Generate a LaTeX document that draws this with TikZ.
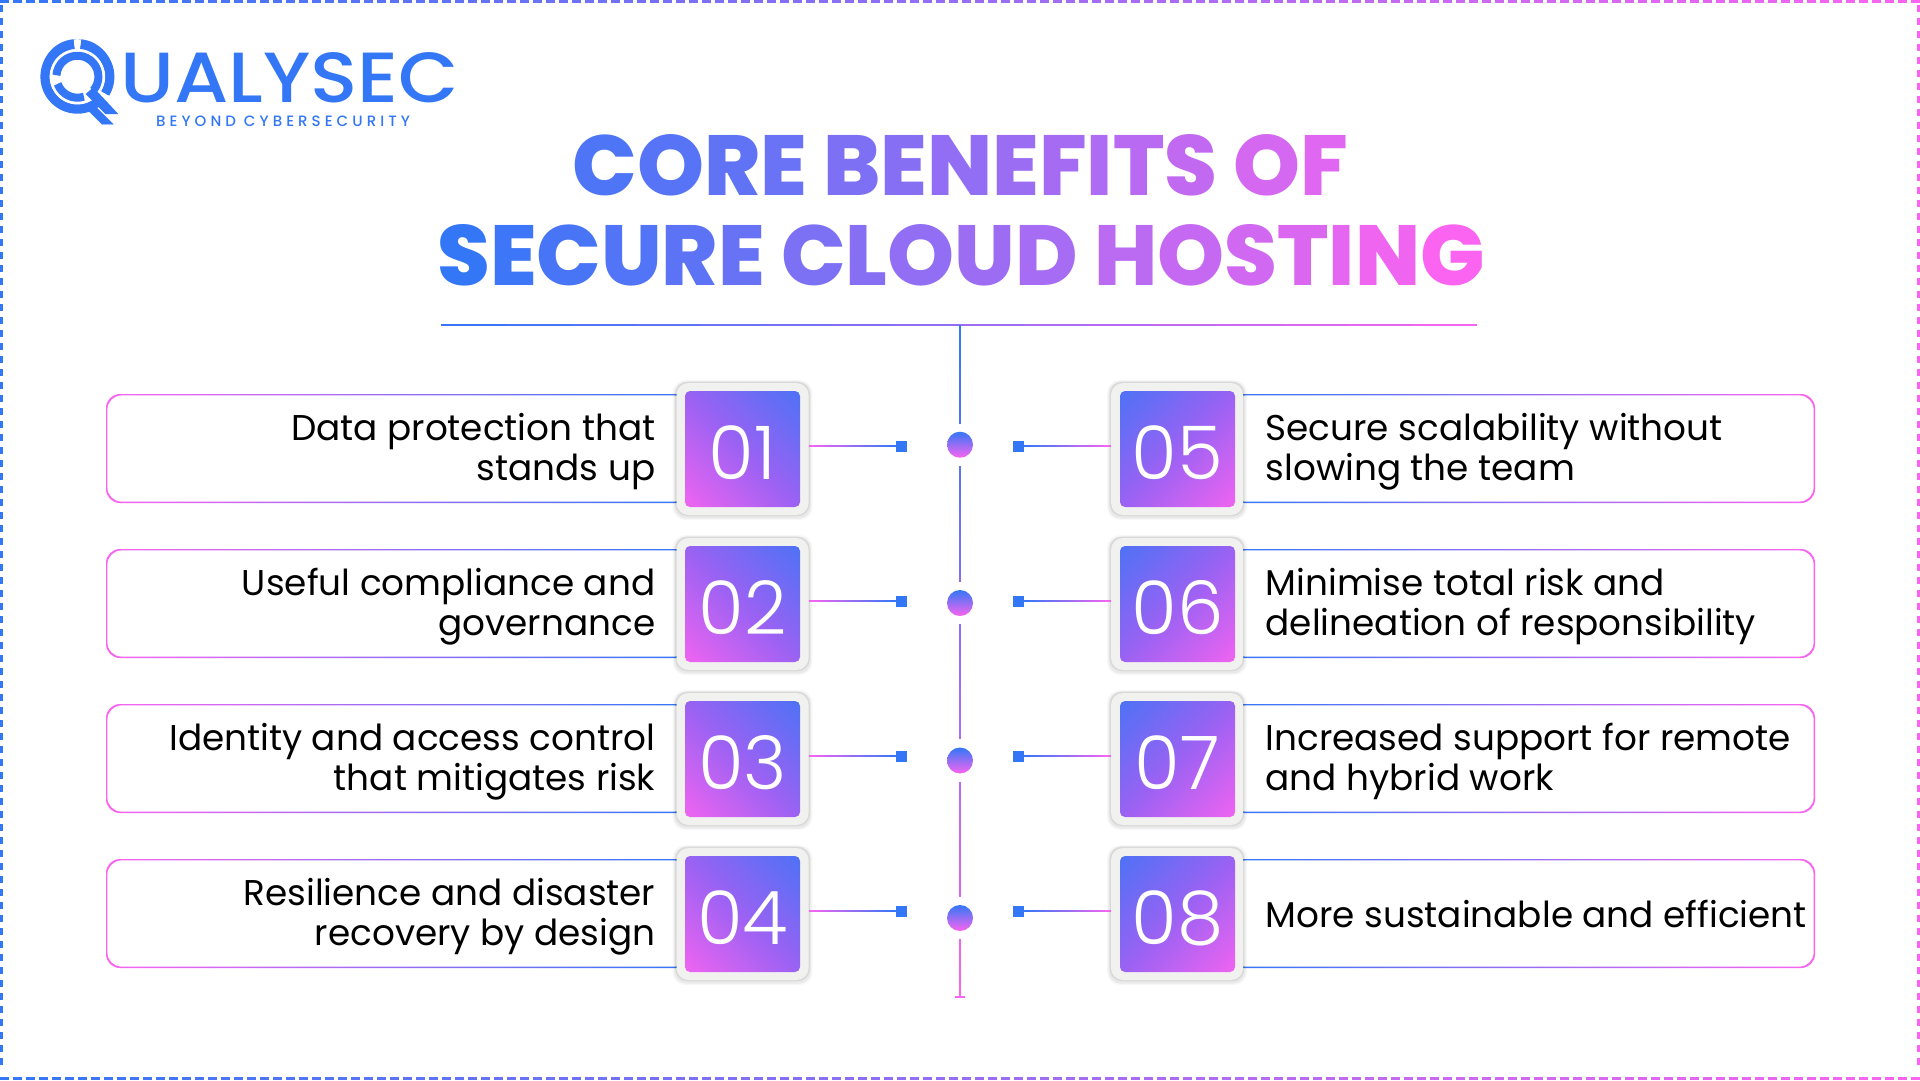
\documentclass[tikz,border=0pt]{standalone}
\usepackage{fontspec}
\setmainfont{Poppins}
\newfontfamily\titlefont{Poppins ExtraBold}
\newfontfamily\numberfont{Poppins Light}
\newfontfamily\logofont[FakeStretch=1.10]{Poppins Medium}
\newfontfamily\sloganfont[LetterSpace=27]{Poppins Medium}
\usetikzlibrary{calc,shadows}

\definecolor{qblue}{HTML}{3377F7}
\definecolor{qpink}{HTML}{FA64F0}
\definecolor{qframe}{HTML}{F1F1F0}
\definecolor{qmid}{HTML}{9A62F3}

\pgfdeclareverticalshading{tileshade}{100bp}{color(0bp)=(qpink); color(10bp)=(qpink); color(50bp)=(qmid); color(98bp)=(qblue); color(100bp)=(qblue)}

\tikzset{
    tileframe/.style={minimum width=132pt,minimum height=132pt,inner sep=0pt,rounded corners=12pt,fill=qframe,
        general shadow={fill=black,opacity=.03,shadow scale=1.06,shadow yshift=-1pt},
        general shadow={fill=black,opacity=.05,shadow scale=1.04,shadow yshift=-1pt},
        general shadow={fill=black,opacity=.07,shadow scale=1.02}},
    tilenum/.style={minimum width=115pt,minimum height=116pt,inner sep=0pt,rounded corners=5pt,text=white,
        text height=60pt,text depth=0pt,font=\numberfont\fontsize{74}{74}\selectfont,shade,shading=tileshade},
    tileleft/.style={tilenum,shading angle=-45},
    tileright/.style={tilenum,shading angle=45},
    lefttext/.style={anchor=east,align=right,inner sep=0pt,font=\fontsize{35.8}{40}\selectfont},
    righttext/.style={anchor=west,align=left,inner sep=0pt,font=\fontsize{35.8}{40}\selectfont},
    endsquare/.style={minimum size=11pt,inner sep=0pt,fill=qblue},
    stemdot/.style={circle,minimum size=26pt,inner sep=0pt,top color=qblue,bottom color=qpink},
    titleline/.style={anchor=base,inner sep=0pt,font=\titlefont\fontsize{85.2}{85.2}\selectfont},
    logoarc/.style={qblue,line width=9pt},
    logoinner/.style={qblue,line width=8pt}
}

% line from one point to another, blue-pink share given at both ends
\newcommand{\gradline}[4]{%
    \foreach \s in {1,...,16}{%
        \pgfmathsetmacro\ta{(\s-1)/16}
        \pgfmathsetmacro\tb{\s/16}
        \pgfmathsetmacro\shr{#3+(#4-#3)*(\s-.5)/16}
        \draw[color=qpink!\shr!qblue,line width=1.8pt] ($(#1)!\ta!(#2)$) -- ($(#1)!\tb!(#2)$);
    }}

% outline of a text box, #5 and #6 are the colours of its left and right side
\newcommand{\gradbox}[6]{%
    \shade[even odd rule,left color=#5,right color=#6,rounded corners=14pt]
        (#1,#2) rectangle (#3,#4)
        (#1+1.4,#2+1.4) rectangle (#3-1.4,#4-1.4);}

% title letters one by one, each a step nearer to pink
\newcount\lettercnt
\makeatletter
\newcommand{\gradword}[3]{%
    \lettercnt=0
    \@tfor\oneletter:=#1\do{%
        \pgfmathsetmacro\shr{#2+\the\lettercnt*#3}%
        \textcolor{qpink!\shr!qblue}{\oneletter}%
        \global\advance\lettercnt by 1 }}
\makeatother

\begin{document}
\begin{tikzpicture}[x=1pt,y=-1pt]

    \useasboundingbox (0,0) rectangle (1920,1080);
    \fill[white] (0,0) rectangle (1920,1080);

    %% Dashed border
    \foreach \x in {0,13,...,1911}{
        \pgfmathsetmacro\shr{\x/19.2}
        \fill[qpink!\shr!qblue] (\x,0) rectangle (\x+8.7,3);
        \fill[qpink!\shr!qblue] (\x,1077) rectangle (\x+8.7,1080);
    }
    \foreach \y in {5,18,...,1070}{
        \fill[qblue] (0,\y) rectangle (3,\y+7);
        \fill[qpink] (1917,\y) rectangle (1920,\y+7);
    }

    %% Logo
    \node[anchor=base west,inner sep=0pt,text=qblue,text depth=0pt,font=\fontsize{102}{102}\selectfont] (logoq) at (37,111) {Q};
    \node[anchor=base west,inner sep=0pt,text=qblue,text depth=0pt,font=\logofont\fontsize{71}{71}\selectfont] (logoname) at (120,102) {UALYSEC};
    \node[anchor=base west,inner sep=0pt,text=qblue,font=\sloganfont\fontsize{15}{15}\selectfont] (logoslogan) at (156,126) {BEYOND CYBERSECURITY};

    % Rings of the Q
    \coordinate (logoc) at (77.4,76.7);
    \fill[white] (logoc) circle (28);
    \draw[white,line width=10pt] ($(logoc)+(-96:32.5)$) arc[start angle=-96,end angle=-84,radius=32.5];
    \draw[white,line width=10pt] ($(logoc)+(31:32.5)$) arc[start angle=31,end angle=50,radius=32.5];
    \draw[logoarc] ($(logoc)+(-84:32.5)$) arc[start angle=-84,end angle=31,radius=32.5];
    \draw[logoarc] ($(logoc)+(50:32.5)$) arc[start angle=50,end angle=264,radius=32.5];
    \draw[logoinner] ($(logoc)+(184:21)$) arc[start angle=184,end angle=400,radius=21];
    \draw[logoinner] ($(logoc)+(160:21)$) arc[start angle=160,end angle=72,radius=21];
    \fill[qblue] (85.7,94) -- (93.3,87.3) -- (118.3,114) -- (105.3,114) -- cycle;

    %% Title
    \node[titleline] (titleone) at (960.5,195) {\gradword{CORE~BENEFITS~OF}{13}{4.9}};
    \node[titleline] (titletwo) at (961,285) {\gradword{SECURE~CLOUD~HOSTING}{0}{5.26}};

    % Rule below the title
    \coordinate (rulea) at (441,325);
    \coordinate (ruleb) at (1477,325);
    \coordinate (rulemid) at (960,325);
    \gradline{rulea}{ruleb}{0}{100}

    %% Text box outlines
    \gradbox{106}{394}{690}{503}{qpink}{qblue}
    \gradbox{106}{549}{690}{658}{qpink}{qblue}
    \gradbox{106}{704}{690}{813}{qpink}{qblue}
    \gradbox{106}{859}{690}{968}{qpink}{qblue}
    \gradbox{1230}{394}{1815}{503}{qblue}{qpink}
    \gradbox{1230}{549}{1815}{658}{qblue}{qpink}
    \gradbox{1230}{704}{1815}{813}{qblue}{qpink}
    \gradbox{1230}{859}{1815}{968}{qblue}{qpink}

    %% Left tiles
    \node[tileframe] (framea) at (742.5,449) {};
    \node[tileframe] (frameb) at (742.5,604) {};
    \node[tileframe] (framec) at (742.5,759) {};
    \node[tileframe] (framed) at (742.5,914) {};
    \node[tileleft] (tilea) at (742.5,449) {01};
    \node[tileleft] (tileb) at (742.5,604) {02};
    \node[tileleft] (tilec) at (742.5,759) {03};
    \node[tileleft] (tiled) at (742.5,914) {04};

    %% Right tiles
    \node[tileframe] (framee) at (1177,449) {};
    \node[tileframe] (framef) at (1177,604) {};
    \node[tileframe] (frameg) at (1177,759) {};
    \node[tileframe] (frameh) at (1177,914) {};
    \node[tileright] (tilee) at (1177.5,449) {05};
    \node[tileright] (tilef) at (1177.5,604) {06};
    \node[tileright] (tileg) at (1177.5,759) {07};
    \node[tileright] (tileh) at (1177.5,914) {08};

    %% Left texts
    \node[lefttext] (texta) at (655.5,451.7) {Data protection that\\stands up};
    \node[lefttext] (textb) at (655.5,606.7) {Useful compliance and\\governance};
    \node[lefttext] (textc) at (655.5,761.7) {Identity and access control\\that mitigates risk};
    \node[lefttext] (textd) at (655.5,916.7) {Resilience and disaster\\recovery by design};

    %% Right texts
    \node[righttext] (texte) at (1265.5,451.7) {Secure scalability without\\slowing the team};
    \node[righttext] (textf) at (1265.5,606.7) {Minimise total risk and\\delineation of responsibility};
    \node[righttext] (textg) at (1265.5,761.7) {Increased support for remote\\and hybrid work};
    \node[righttext] (texth) at (1265.5,914) {More sustainable and efficient};

    %% Centre stem dots
    \node[stemdot] (dota) at (960,444.7) {};
    \node[stemdot] (dotb) at (960,603) {};
    \node[stemdot] (dotc) at (960,760.5) {};
    \node[stemdot] (dotd) at (960,918) {};

    %% End squares
    \node[endsquare] (squarea) at (901.5,446) {};
    \node[endsquare] (squareb) at (901.5,601) {};
    \node[endsquare] (squarec) at (901.5,756) {};
    \node[endsquare] (squared) at (901.5,911) {};
    \node[endsquare] (squaree) at (1018.5,446) {};
    \node[endsquare] (squaref) at (1018.5,601) {};
    \node[endsquare] (squareg) at (1018.5,756) {};
    \node[endsquare] (squareh) at (1018.5,911) {};

    %% Connectors from tiles to squares
    \gradline{framea.east |- squarea}{squarea.west}{100}{0}
    \gradline{frameb.east |- squareb}{squareb.west}{100}{0}
    \gradline{framec.east |- squarec}{squarec.west}{100}{0}
    \gradline{framed.east |- squared}{squared.west}{100}{0}
    \gradline{squaree.east}{framee.west |- squaree}{0}{100}
    \gradline{squaref.east}{framef.west |- squaref}{0}{100}
    \gradline{squareg.east}{frameg.west |- squareg}{0}{100}
    \gradline{squareh.east}{frameh.west |- squareh}{0}{100}

    %% Centre stem
    \coordinate (steminb) at ($(dota.north)+(0,-8)$);
    \coordinate (stemoutb) at ($(dota.south)+(0,8)$);
    \coordinate (steminc) at ($(dotb.north)+(0,-8)$);
    \coordinate (stemoutc) at ($(dotb.south)+(0,8)$);
    \coordinate (steamind) at ($(dotc.north)+(0,-8)$);
    \coordinate (stemoutd) at ($(dotc.south)+(0,8)$);
    \coordinate (steminf) at ($(dotd.north)+(0,-8)$);
    \coordinate (stemoute) at ($(dotd.south)+(0,8)$);
    \coordinate (stemend) at (960,997);
    \gradline{rulemid}{steminb}{0}{15}
    \gradline{stemoutb}{steminc}{21}{38}
    \gradline{stemoutc}{steamind}{44}{62}
    \gradline{stemoutd}{steminf}{68}{85}
    \gradline{stemoute}{stemend}{91}{100}
    \draw[qpink,line width=1.2pt] ($(stemend)+(-5,0)$) -- ($(stemend)+(5,0)$);

\end{tikzpicture}
\end{document}
